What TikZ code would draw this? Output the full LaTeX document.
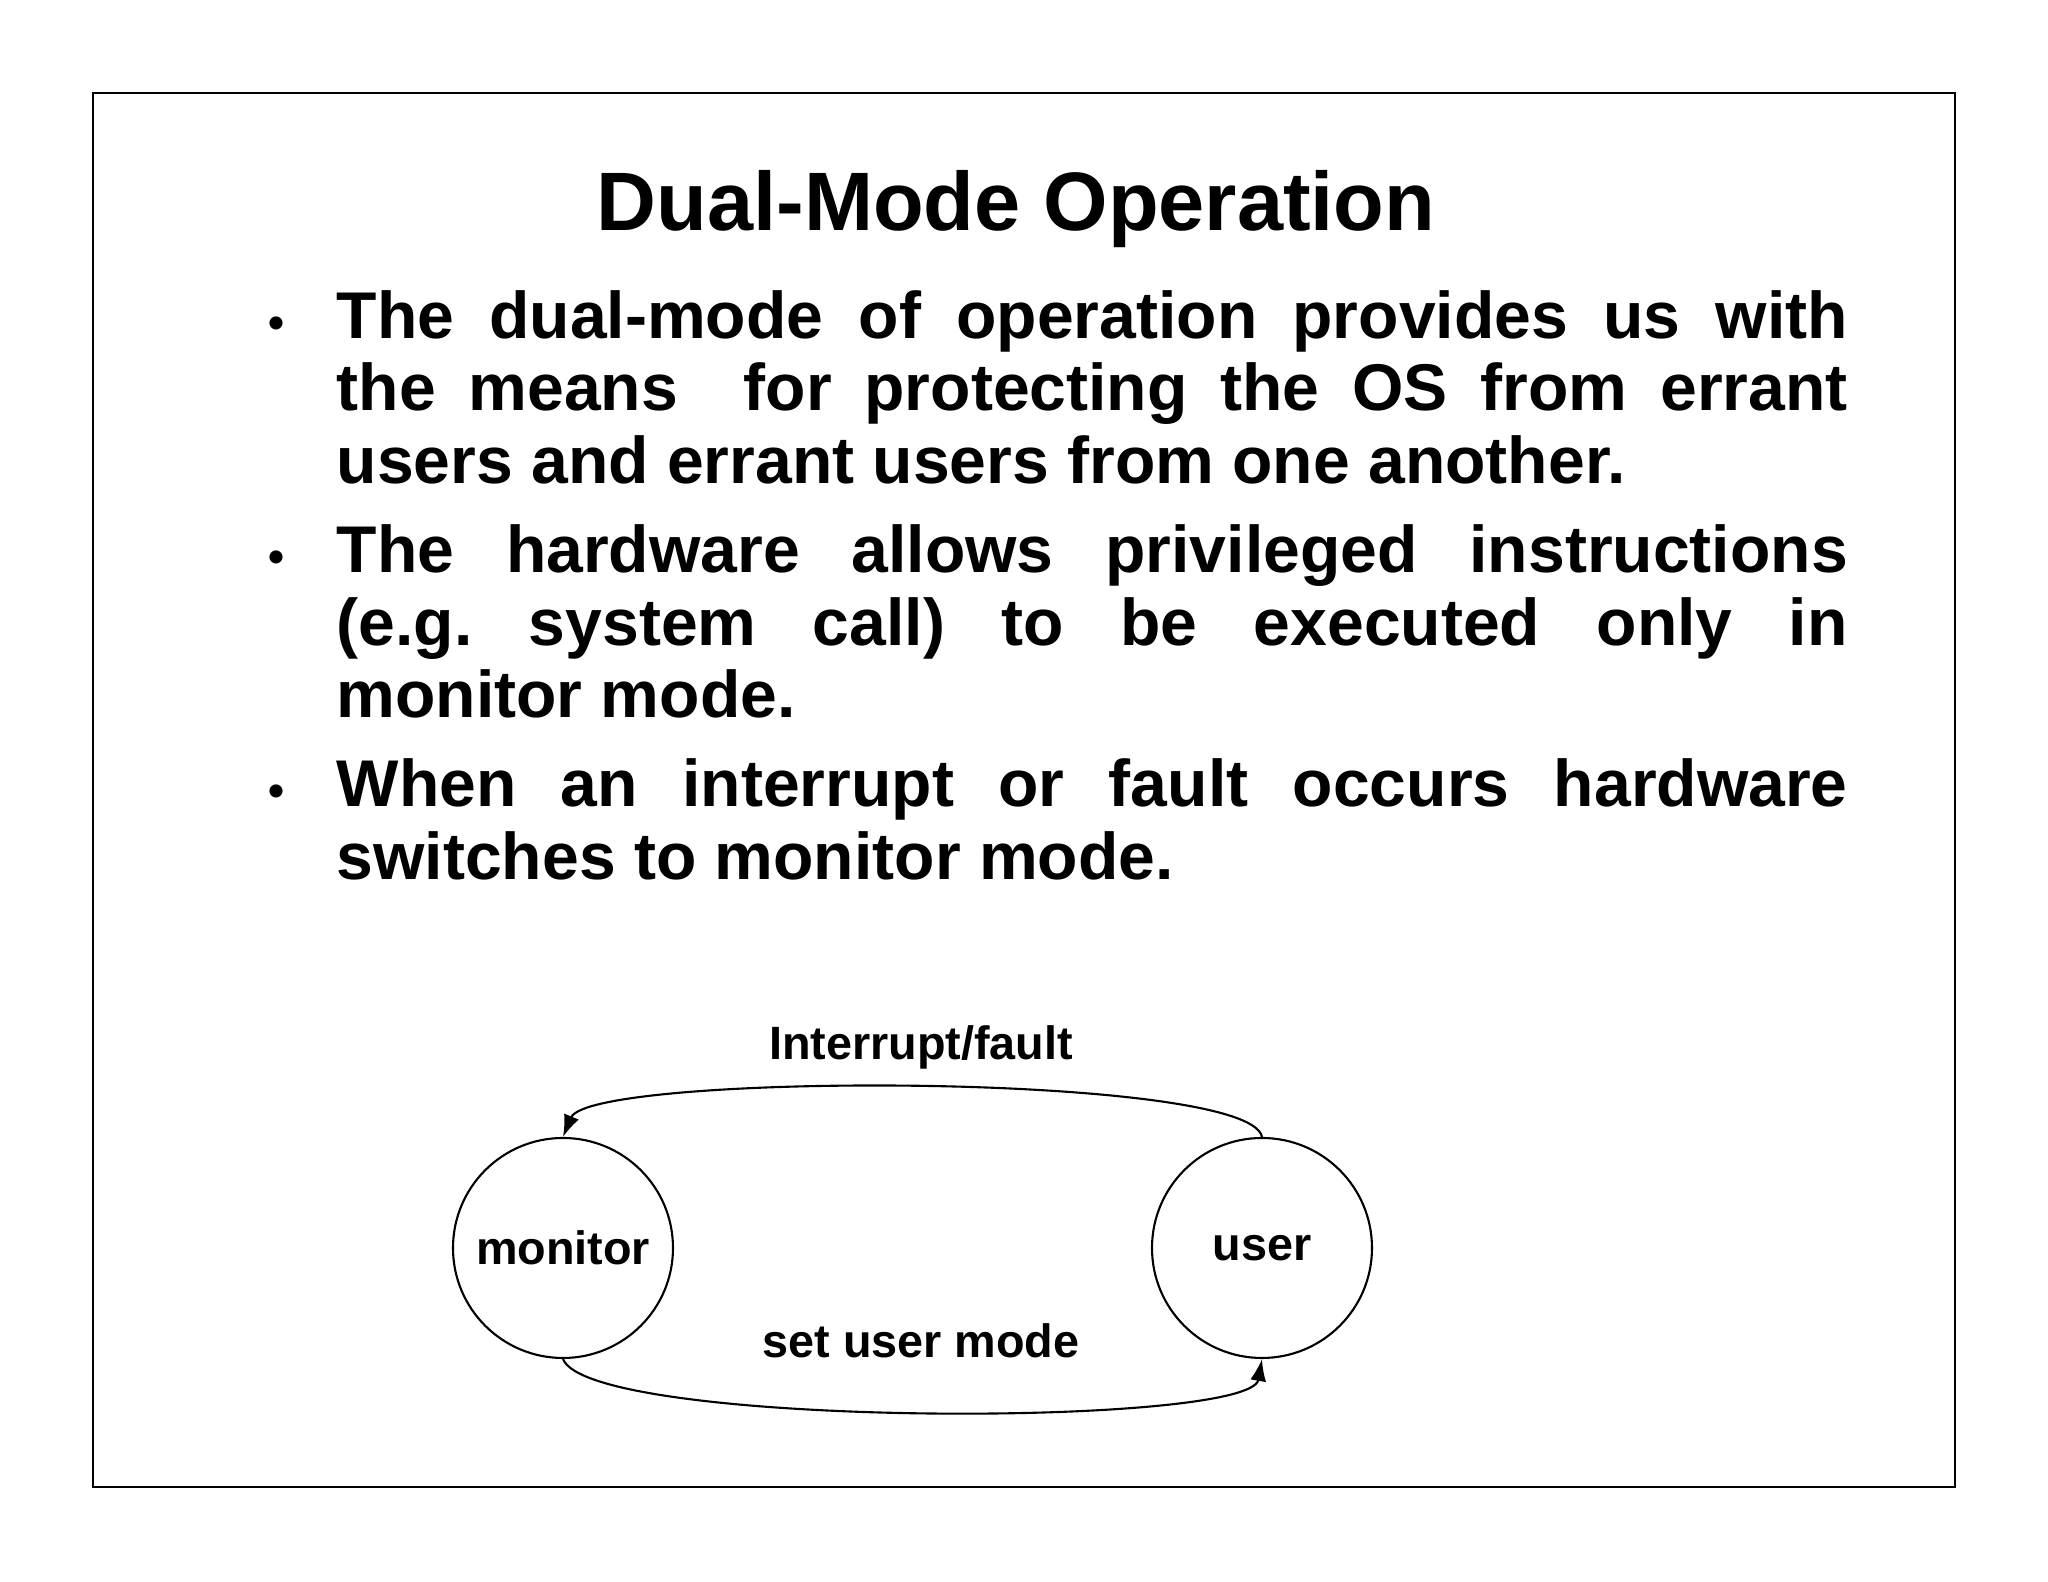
\documentclass[tikz,border=0pt]{standalone}
\usepackage{fontspec}
\setmainfont{Liberation Sans}
\usetikzlibrary{arrows.meta}

\tikzset{
    mode/.style={draw, circle, minimum size=2.2cm, inner sep=0pt, line width=0.6pt, font=\fontsize{13.3}{15}\selectfont\bfseries},
    edgelabel/.style={font=\fontsize{13.3}{15}\selectfont\bfseries},
    trans/.style={line width=0.6pt, -{Latex[length=2.2mm,width=1.6mm]}}
}
\newcommand{\bitem}{\noindent\hangindent=0.68cm\hangafter=1\makebox[0.68cm][l]{\fontsize{13}{13}\selectfont\textbullet}}

\begin{document}
\begin{tikzpicture}
    \useasboundingbox (0,0) rectangle (20.48,15.82);
    \fill [white] (0,0) rectangle (20.48,15.82);
    \draw [line width=0.5pt] (0.93,0.95) rectangle (19.55,14.89);
    \node (title) [font=\fontsize{23.6}{28}\selectfont\bfseries] at (10.16,13.73) {Dual-Mode Operation};
    \node (bullets) [anchor=north west, inner sep=0pt, text width=15.79cm, align=justify,
        font=\fontsize{18.8}{20.6}\selectfont\bfseries] at (2.68,12.92) {%
        \parskip=0.17cm\hyphenpenalty=10000\exhyphenpenalty=10000
        \bitem The dual-mode of operation provides us with\linebreak the means\ \ for protecting the OS from errant\linebreak users and errant users from one another.\par
        \bitem The hardware allows privileged instructions\linebreak (e.g.\ system call) to be executed only in\linebreak monitor mode.\par
        \bitem When an interrupt or fault occurs hardware\linebreak switches to monitor mode.\par};
    % state diagram
    \node (monitor) [mode] at (5.63,3.34) {monitor};
    \node (user) [mode] at (12.62,3.34) {user};
    \draw [trans] (user.north) .. controls (12.5,5.1) and (5.9,5.1) .. (monitor.north);
    \draw [trans] (monitor.south) .. controls (5.9,1.54) and (12.5,1.54) .. (user.south);
    \node (fault) [edgelabel] at (9.21,5.35) {Interrupt/fault};
    \node (setuser) [edgelabel] at (9.21,2.41) {set user mode};
\end{tikzpicture}
\end{document}
